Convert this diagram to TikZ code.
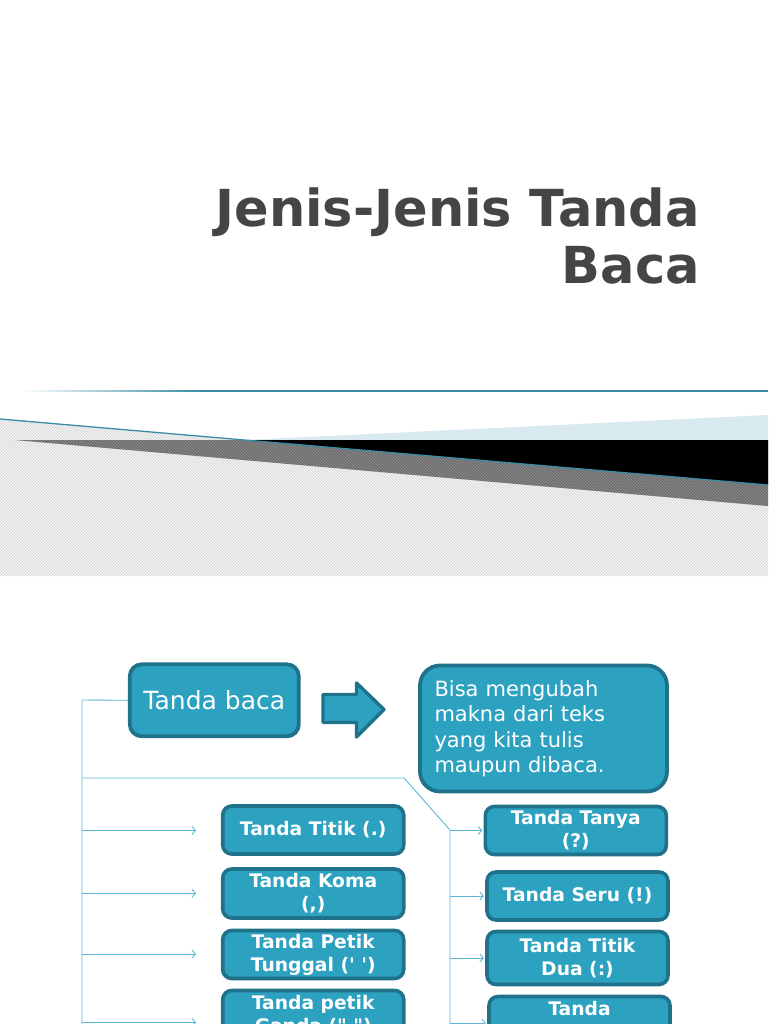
\documentclass[tikz,border=0pt]{standalone}
\usepackage{fontspec}
\setmainfont{DejaVu Sans}[Ligatures=TeXOff]
\usepackage{xcolor}
\usetikzlibrary{calc}
\usetikzlibrary{arrows.meta,patterns}
\definecolor{boxfill}{RGB}{44,161,192}
\definecolor{boxline}{RGB}{31,114,137}
\definecolor{linkcol}{RGB}{92,184,212}
\definecolor{titlegray}{RGB}{69,69,69}
\definecolor{bandteal}{RGB}{58,140,165}
\definecolor{paleblue}{RGB}{216,233,240}
\tikzset{
	jenis/.style={
			draw=boxline, fill=boxfill, line width=3.6pt, rounded corners=9pt,
			text=white, align=center, inner sep=0pt,
			font=\bfseries\fontsize{18.7}{23}\selectfont,
			minimum width=181pt, minimum height=48pt
		},
	link/.style={draw=linkcol, line width=0.9pt},
	linkarrow/.style={link, -{Straight Barb[length=3.5pt,width=8pt]}}
}

\begin{document}
\begin{tikzpicture}[x=1pt, y=-1pt]
	\useasboundingbox (0,0) rectangle (768,1024);
	\clip (0,0) rectangle (768,1024);
	\fill[white] (0,0) rectangle (768,1024);

	% title
	\node[anchor=north east, inner sep=0pt, text=titlegray, align=right,
		font=\bfseries\fontsize{51}{57}\selectfont] (title) at (700,188)
		{Jenis-Jenis Tanda\\Baca};

	% band
	\shade[left color=white, right color=bandteal] (20,390.4) rectangle (200.5,391.7);
	\fill[bandteal] (199.5,390.4) rectangle (768,391.7);
	\fill[gray!27] (0,419) -- (768,485) -- (768,576) -- (0,576) -- cycle;
	\fill[pattern=north west lines, pattern color=white] (0,419) -- (768,485) -- (768,576) -- (0,576) -- cycle;
	\fill[paleblue] (244,440) -- (768,415) -- (768,440) -- cycle;
	\draw[gray!60, line width=0.6pt] (244,440) -- (768,440);
	\fill[black!58] (15,440) -- (768,440) -- (768,506) -- cycle;
	\fill[pattern=north west lines, pattern color=black!42] (15,440) -- (768,440) -- (768,506) -- cycle;
	\fill[black] (244,440) -- (768,440) -- (768,485) -- cycle;
	\draw[bandteal, line width=1.3pt] (0,419) -- (768,485);

	% top row
	\node[jenis, line width=3.8pt, font=\fontsize{25}{30}\selectfont,
		minimum width=169pt, minimum height=72pt, rounded corners=12pt] (baca) at (214.3,700.3) {Tanda baca};
	\draw[draw=boxline, fill=boxfill, line width=3.4pt, line join=round]
		(323,694.5) -- (356.5,694.5) -- (356.5,683) -- (384,709.5) -- (356.5,737)
		-- (356.5,722.5) -- (323,722.5) -- cycle;
	\node[jenis, line width=3.8pt, font=\fontsize{21}{25.5}\selectfont, align=left, text width=218pt,
		minimum width=247pt, minimum height=126pt, rounded corners=20pt] (makna) at (543.5,728.5)
		{Bisa mengubah\\makna dari teks\\yang kita tulis\\maupun dibaca.};

	% left column
	\node[jenis] (titik) at (313.2,830) {Tanda Titik (.)};
	\node[jenis, minimum height=49pt] (koma) at (313.2,893.5) {Tanda Koma\\(,)};
	\node[jenis] (tunggal) at (313.2,954.5) {Tanda Petik\\Tunggal (' ')};
	\node[jenis, minimum height=49pt] (ganda) at (313.2,1015) {Tanda petik\\Ganda (" ")};

	% right column
	\node[jenis] (tanya) at (575.8,830.5) {Tanda Tanya\\(?)};
	\node[jenis] (seru) at (577.5,896) {Tanda Seru (!)};
	\node[jenis, minimum height=53pt] (titikdua) at (577.5,958) {Tanda Titik\\Dua (:)};
	\node[jenis, minimum height=53pt] (lain) at (579.5,1023) {Tanda\\\strut};

	% connectors
	\coordinate (top) at (82,700);
	\coordinate (bot) at (82,1030);
	\coordinate (split) at (82,778);
	\coordinate (bend) at (404,778);
	\coordinate (drop) at (450,830);
	\coordinate (dropend) at (450,1030);
	\draw[link] (bot) -- (top) -- (baca.west);
	\draw[link] (split) -- (bend) -- (drop) -- (dropend);
	\foreach \nm/\y in {titik/830.5, koma/893.3, tunggal/954, ganda/1022.5}{
		\coordinate (\nm-in) at (196,\y);
		\draw[linkarrow] (bot |- \nm-in) -- (\nm-in);
	}
	\foreach \nm in {tanya, seru, titikdua, lain}{
		\draw[linkarrow] (dropend |- \nm.west) -- ([xshift=-1.3pt]\nm.west);
	}
\end{tikzpicture}
\end{document}
